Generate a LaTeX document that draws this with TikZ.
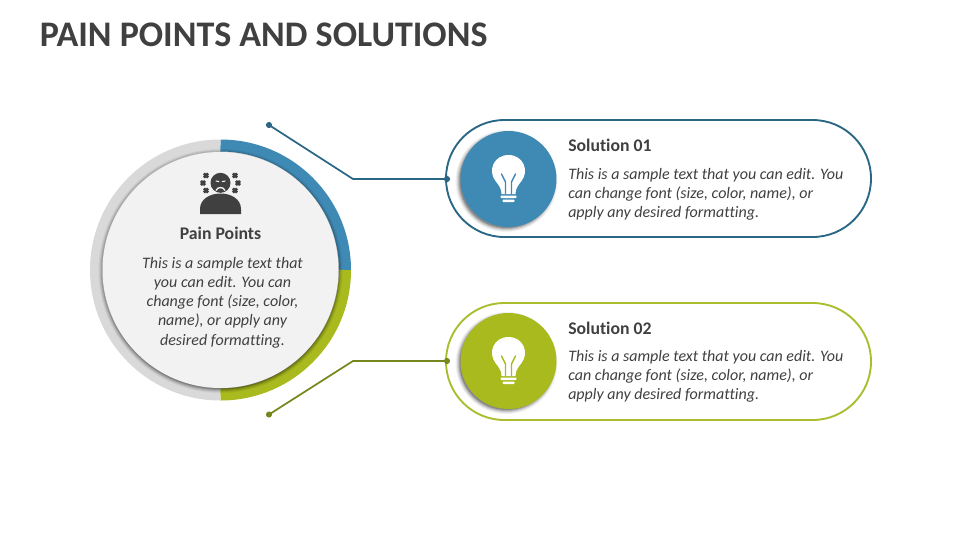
\documentclass[tikz,border=0pt]{standalone}
\usepackage{fontspec}
\setmainfont[Ligatures=NoCommon]{Carlito}
\definecolor{txt}{HTML}{404040}
\definecolor{blueF}{HTML}{3F8AB5}
\definecolor{blueL}{HTML}{2A6785}
\definecolor{greenF}{HTML}{A9BA1E}
\definecolor{greenL}{HTML}{77871E}
\definecolor{greenP}{HTML}{A9BD2D}
\tikzset{
  x=.75pt,y=-.75pt,
  ringarc/.style={line width=9pt,line cap=butt},
  pill/.style={draw=#1,line width=1.4pt,fill=white,minimum width=318.75pt,minimum height=87.75pt,rounded corners=43.8pt,inner sep=0pt},
  disc/.style={circle,fill=#1,minimum size=72pt,inner sep=0pt},
  dotnode/.style={circle,fill=#1,minimum size=4.6pt,inner sep=0pt},
  conn/.style={draw=#1,line width=1.3pt},
  headtxt/.style={font=\fontsize{13.3}{15}\selectfont\bfseries,text=txt,inner sep=0pt},
  bodytxt/.style={font=\fontsize{12}{14.4}\selectfont\itshape,text=txt,inner sep=0pt},
}
\newcommand{\softshadow}[5]{%
  \foreach \d/\o in {4/.05,3/.07,2/.10,1/.14,0/.20}{
    \fill[black,opacity=\o] (#1+#3,#2+#4) circle[radius=#5+\d];
  }}
\newcommand{\bulbicon}[3]{%
  \begin{scope}[shift={(#1,#2)}]
    \fill[white] (-7,22) .. controls (-7,17) and (-9,14) .. (-13,9)
      .. controls (-21,-1) and (-15,-17) .. (0,-17)
      .. controls (15,-17) and (21,-1) .. (13,9)
      .. controls (9,14) and (7,17) .. (7,22) -- cycle;
    \draw[#3,line width=1.1pt,line cap=round] (-7,2) -- (-3,10) -- (-3,22);
    \draw[#3,line width=1.1pt,line cap=round] (7,2) -- (3,10) -- (3,22);
    \fill[white,rounded corners=.6pt] (-8,23.5) rectangle (8,26);
    \fill[white,rounded corners=.6pt] (-6,27.5) rectangle (6,30);
  \end{scope}}
\newcommand{\crossmark}[2]{%
  \draw[txt,line width=1.9pt] (#1-2.1,#2-2.1) -- (#1+2.1,#2+2.1) (#1-2.1,#2+2.1) -- (#1+2.1,#2-2.1);}
\begin{document}
\begin{tikzpicture}
\useasboundingbox (0,0) rectangle (960,540);
\fill[white] (0,0) rectangle (960,540);
\node[anchor=west,inner sep=0pt,font=\fontsize{27}{32}\selectfont\bfseries,text=txt] (title) at (39.5,34.5) {PAIN POINTS AND SOLUTIONS};

% ring
\draw[ringarc,draw=black!15] (220.5,394.5) arc[start angle=90,end angle=270,radius=124.5];
\draw[ringarc,draw=blueF] (220.5,145.5) arc[start angle=-90,end angle=0,radius=124.5];
\draw[ringarc,draw=greenF] (345,270) arc[start angle=0,end angle=90,radius=124.5];
% inner circle
\softshadow{220.5}{270.5}{0}{.5}{118}
\node[circle,fill=black!5,minimum size=177pt,inner sep=0pt] (hub) at (220.5,270) {};

% person icon
\fill[txt] (220.5,182.8) circle[radius=10];
\fill[txt] (200,214) -- (200,209) .. controls (200,199) and (210,193.5) .. (220.5,193.5)
  .. controls (231,193.5) and (241,199) .. (241,209) -- (241,214) -- cycle;
\draw[black!5,line width=.8pt] (215.8,181) -- (219.2,181.6) (225.4,181) -- (222,181.6);
\draw[black!5,line width=1pt] (216,190.5) .. controls (217.5,186.5) and (223.5,186.5) .. (225,190.5);
\crossmark{206}{175.5}\crossmark{203}{183}\crossmark{206}{190.5}
\crossmark{235}{175.5}\crossmark{238}{183}\crossmark{235}{190.5}

\node[headtxt] (hubhead) at (220.5,233.5) {Pain Points};
\node[bodytxt,align=center,anchor=north] (hubbody) at (222.5,257) {This is a sample text that\\you can edit. You can\\change font (size, color,\\name), or apply any\\desired formatting.};

% pills
\node[pill=blueL] (pillA) at (658.5,178.5) {};
\node[pill=greenP] (pillB) at (658.5,361.5) {};
\softshadow{508.5}{179}{-2}{2}{47}
\node[disc=blueF] (discA) at (508.5,179) {};
\softshadow{508.5}{361}{-2}{2}{47}
\node[disc=greenF] (discB) at (508.5,361) {};
\bulbicon{508.5}{172}{blueF}
\bulbicon{508.5}{354}{greenF}

\node[headtxt,anchor=west] (headA) at (568,145) {Solution 01};
\node[bodytxt,align=left,anchor=north west] (bodyA) at (568,168) {This is a sample text that you can edit. You\\can change font (size, color, name), or\\apply any desired formatting.};
\node[headtxt,anchor=west] (headB) at (568,328) {Solution 02};
\node[bodytxt,align=left,anchor=north west] (bodyB) at (568,350) {This is a sample text that you can edit. You\\can change font (size, color, name), or\\apply any desired formatting.};

% connectors
\node[dotnode=blueL] (dotA1) at (269,125) {};
\node[dotnode=blueL] (dotA2) at (447,179) {};
\coordinate (elbowA) at (353,179);
\draw[conn=blueL] (dotA1.center) -- (elbowA) -- (dotA2.center);
\node[dotnode=greenL] (dotB1) at (269,414.5) {};
\node[dotnode=greenL] (dotB2) at (447,361) {};
\coordinate (elbowB) at (353,361);
\draw[conn=greenL] (dotB1.center) -- (elbowB) -- (dotB2.center);
\end{tikzpicture}
\end{document}
